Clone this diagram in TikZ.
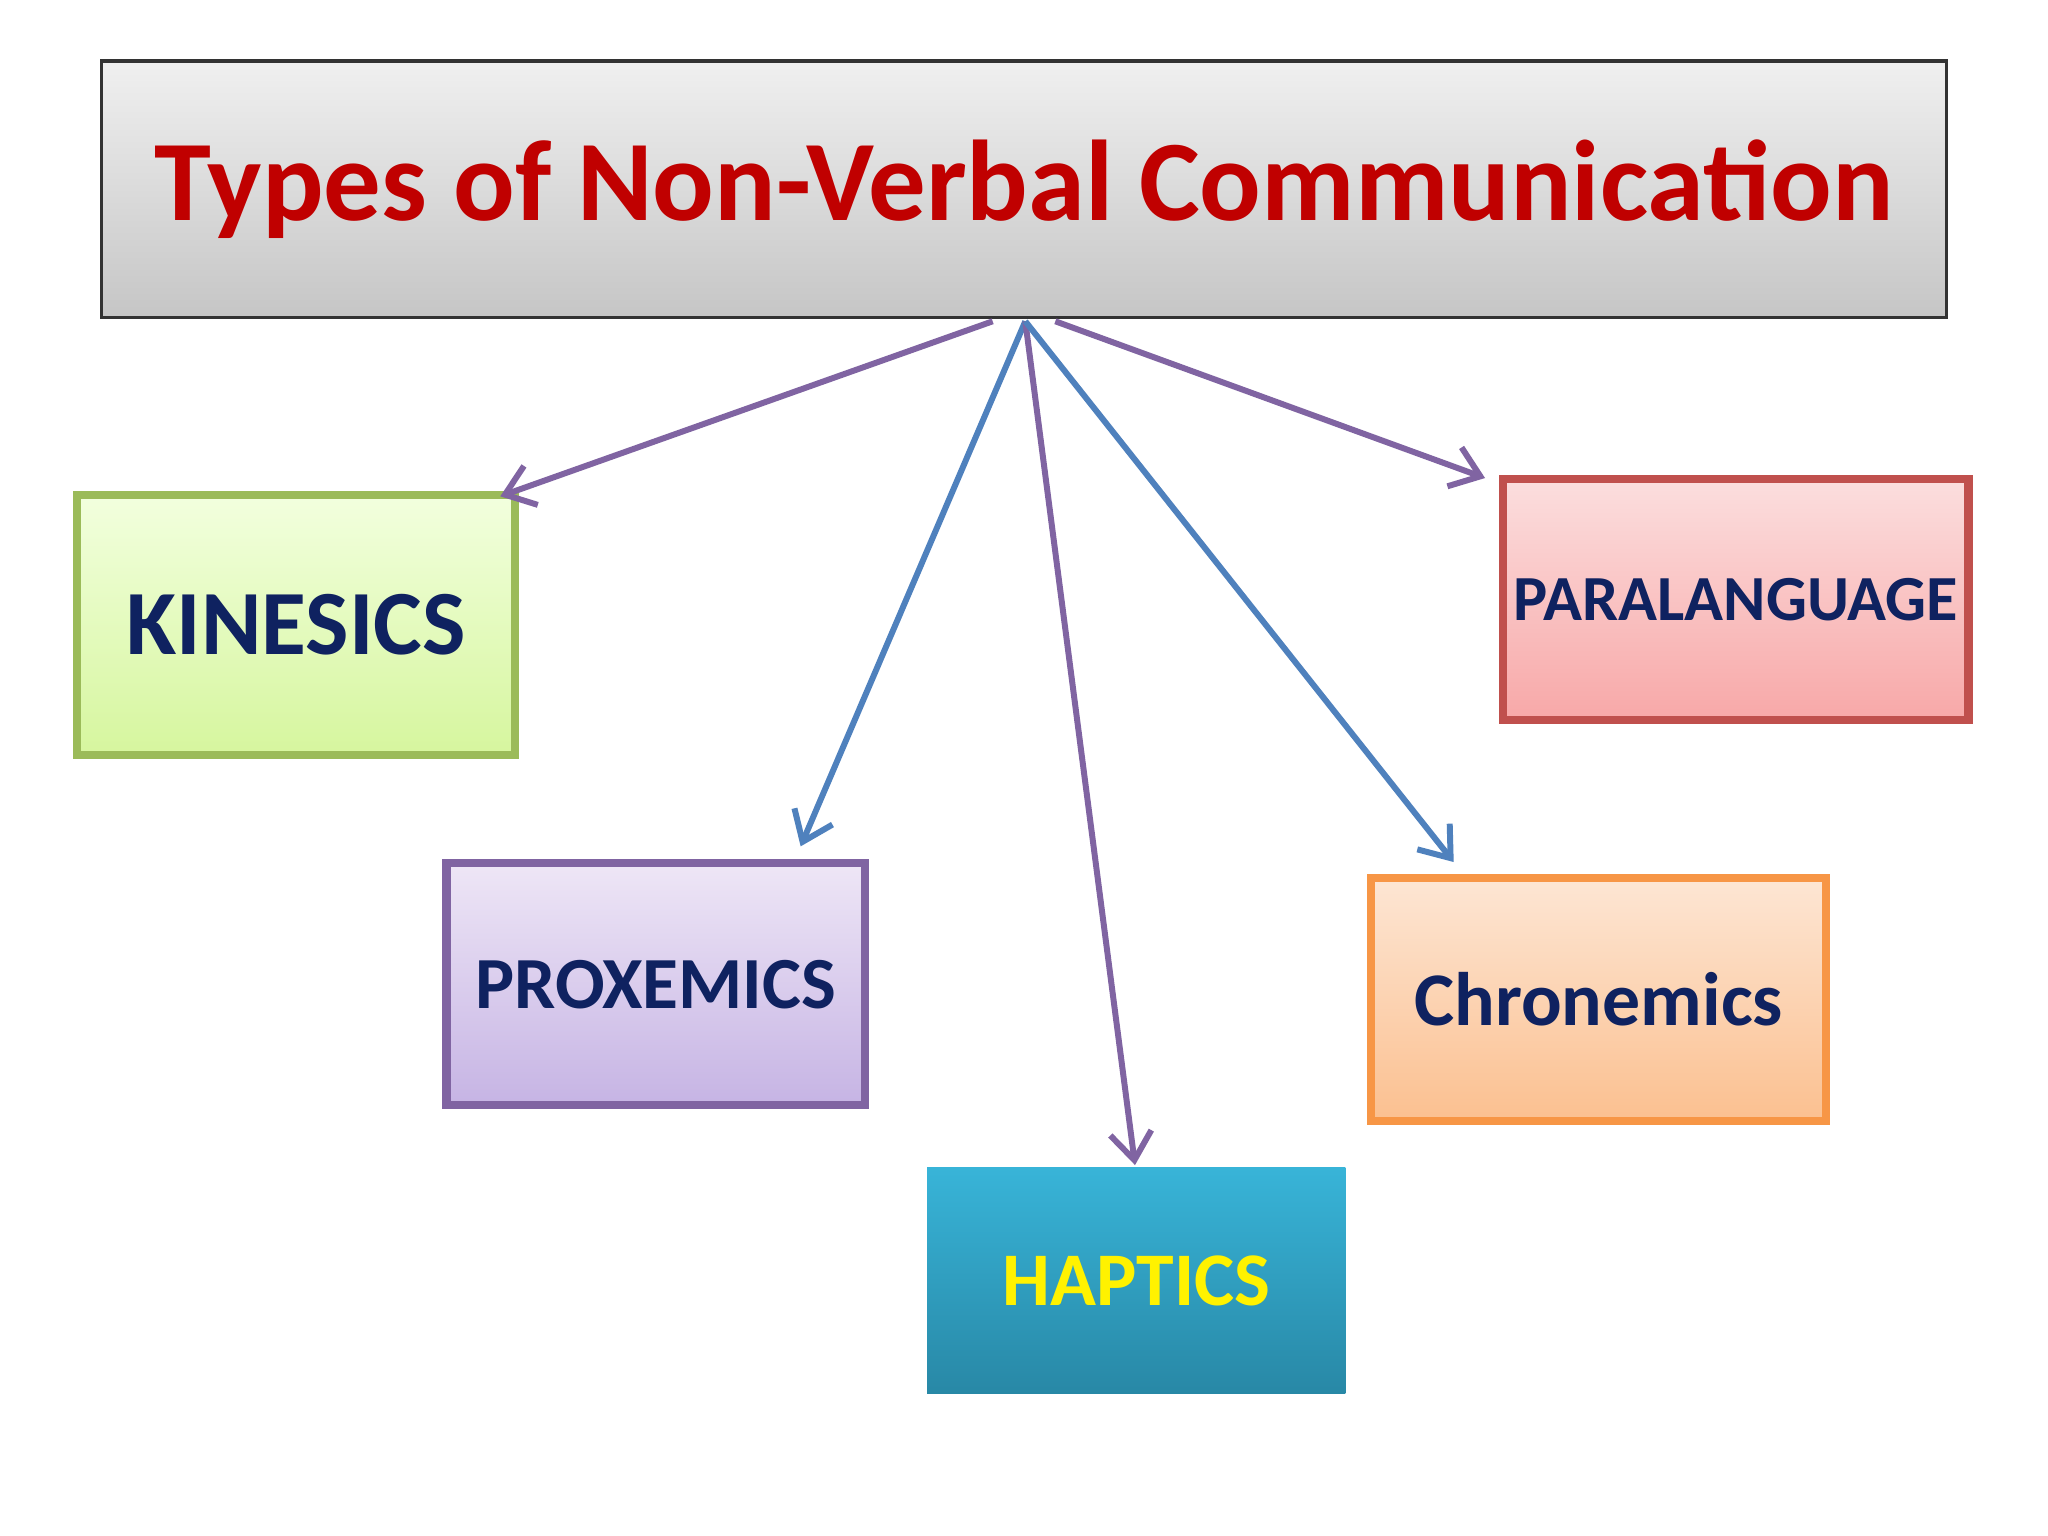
\documentclass[tikz,border=0pt]{standalone}
\usepackage{fontspec}
\setmainfont{Carlito}
\usetikzlibrary{arrows.meta}
\definecolor{tred}{HTML}{C00000}
\definecolor{navy}{HTML}{0F2260}
\definecolor{pur}{HTML}{8064A2}
\definecolor{blu}{HTML}{4F81BD}
\tikzset{
  box/.style={draw, line width=1.8pt, inner sep=0pt, font=\bfseries, text=navy},
  arr/.style={line width=1.3pt, -{Straight Barb[length=6pt,width=9pt]}},
}
\begin{document}
\begin{tikzpicture}[x=0.01cm,y=-0.01cm]
\useasboundingbox[fill=white] (0,0) rectangle (1568,1176);
\node[draw=black!80, line width=0.8pt, top color=gray!12, bottom color=gray!45, minimum width=14.12cm, minimum height=1.96cm, inner sep=0pt, font=\bfseries\fontsize{25}{28}\selectfont, text=tred] (title) at (784,145) {Types of Non-Verbal Communication};
\node[box, draw=green!50!olive!70!gray, draw={rgb,255:red,155;green,187;blue,89}, top color={rgb,255:red,242;green,255;blue,222}, bottom color={rgb,255:red,214;green,246;blue,158}, minimum width=3.35cm, minimum height=1.99cm, font=\bfseries\fontsize{20}{24}\selectfont] (kin) at (226.5,478.5) {KINESICS};
\node[box, draw=pur, top color={rgb,255:red,238;green,230;blue,246}, bottom color={rgb,255:red,198;green,180;blue,228}, minimum width=3.2cm, minimum height=1.85cm, font=\bfseries\fontsize{16}{20}\selectfont] (prox) at (502,753.5) {PROXEMICS};
\node[inner sep=0pt, top color={rgb,255:red,56;green,180;blue,216}, bottom color={rgb,255:red,40;green,136;blue,166}, minimum width=3.2cm, minimum height=1.73cm, font=\bfseries\fontsize{16.5}{20}\selectfont, text=yellow] (hap) at (870,980.5) {HAPTICS};
\node[box, draw={rgb,255:red,247;green,150;blue,70}, top color={rgb,255:red,253;green,230;blue,212}, bottom color={rgb,255:red,251;green,192;blue,144}, minimum width=3.48cm, minimum height=1.86cm, font=\bfseries\fontsize{16.5}{20}\selectfont] (chr) at (1224,765) {Chronemics};
\node[box, draw={rgb,255:red,192;green,80;blue,77}, top color={rgb,255:red,251;green,222;blue,222}, bottom color={rgb,255:red,248;green,168;blue,168}, minimum width=3.56cm, minimum height=1.84cm, font=\bfseries\fontsize{14}{18}\selectfont] (para) at (1329,459) {PARALANGUAGE};
\coordinate (s1) at (760,246);
\coordinate (s2) at (785,246);
\coordinate (s3) at (808,246);
\coordinate (e1) at (383,380);
\coordinate (e2) at (613,648);
\coordinate (e3) at (869,892);
\coordinate (e4) at (1113,660);
\coordinate (e5) at (1137,366);
\draw[arr, pur] (s1) -- (e1);
\draw[arr, blu] (s2) -- (e2);
\draw[arr, pur] (s2) -- (e3);
\draw[arr, blu] (s2) -- (e4);
\draw[arr, pur] (s3) -- (e5);
\end{tikzpicture}
\end{document}
